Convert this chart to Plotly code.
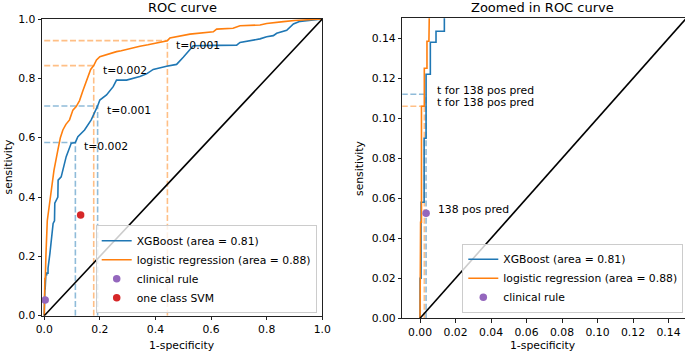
import plotly.graph_objects as go

# ---------------- data ----------------
xgb_fpr = [0, 0, 0.0006, 0.0006, 0.0023, 0.0023, 0.0034, 0.0034, 0.0058, 0.0058,
           0.009, 0.009, 0.0137, 0.0137, 0.0205, 0.032, 0.037, 0.038, 0.049, 0.05,
           0.061, 0.068, 0.079, 0.097, 0.112, 0.121, 0.145, 0.169, 0.187, 0.192,
           0.2, 0.224, 0.248, 0.26, 0.296, 0.344, 0.368, 0.392, 0.44, 0.476,
           0.5, 0.524, 0.536, 0.62, 0.692, 0.704, 0.752, 0.776, 0.8, 0.824,
           0.836, 0.872, 0.896, 0.92, 1.0]
xgb_tpr = [0, 0.02, 0.02, 0.058, 0.058, 0.09, 0.09, 0.122, 0.122, 0.138,
           0.138, 0.1435, 0.1435, 0.16, 0.21, 0.311, 0.32, 0.379, 0.40, 0.457,
           0.468, 0.491, 0.536, 0.581, 0.584, 0.603, 0.626, 0.66, 0.693, 0.707,
           0.727, 0.744, 0.772, 0.794, 0.794, 0.806, 0.815, 0.83, 0.841, 0.847,
           0.871, 0.899, 0.91, 0.911, 0.912, 0.921, 0.929, 0.933, 0.94, 0.944,
           0.952, 0.962, 0.983, 0.992, 1.0]

lr_fpr = [0, 0, 0.0003, 0.0003, 0.0008, 0.0008, 0.0024, 0.0024, 0.0039, 0.0039,
          0.005, 0.005, 0.006, 0.011, 0.018, 0.023, 0.027, 0.035, 0.049, 0.058,
          0.067, 0.078, 0.091, 0.103, 0.115, 0.127, 0.139, 0.148, 0.157, 0.167,
          0.178, 0.188, 0.2, 0.229, 0.26, 0.277, 0.325, 0.344, 0.373, 0.416,
          0.443, 0.452, 0.512, 0.524, 0.608, 0.62, 0.679, 0.704, 0.776, 0.8,
          0.86, 0.9, 1.0]
lr_tpr = [0, 0.006, 0.006, 0.048, 0.048, 0.106, 0.106, 0.125, 0.125, 0.1385,
          0.1385, 0.16, 0.2, 0.32, 0.367, 0.41, 0.44, 0.49, 0.558, 0.60,
          0.626, 0.645, 0.66, 0.693, 0.705, 0.725, 0.758, 0.78, 0.803, 0.83,
          0.843, 0.862, 0.873, 0.882, 0.89, 0.893, 0.905, 0.908, 0.913, 0.923,
          0.927, 0.936, 0.946, 0.949, 0.957, 0.966, 0.969, 0.977, 0.98, 0.985,
          0.991, 0.995, 1.0]

xgb_auc = 0.81
lr_auc = 0.88

clinical_fpr = [0.0034]
clinical_tpr = [0.0525]
svm_fpr = [0.131]
svm_tpr = [0.339]

# threshold markers on the full ROC plot
thr_model = ["xgb", "xgb", "lr", "lr"]
thr_fpr = [0.112, 0.192, 0.178, 0.443]
thr_tpr = [0.584, 0.707, 0.843, 0.927]
thr_label = ["t=0.002", "t=0.001", "t=0.002", "t=0.001"]

# thresholds giving 138 positive predictions (zoomed plot)
pos_model = ["xgb", "lr"]
pos_fpr = [0.0034, 0.0024]
pos_tpr = [0.112, 0.106]
pos_label = ["t for 138 pos pred", "t for 138 pos pred"]
clinical_label = "138 pos pred"

# ---------------- style ----------------
W, H = 685, 354
FONT = "DejaVu Sans"
BLUE = "#1f77b4"
ORANGE = "#ff7f0e"
LBLUE = "rgba(31,119,180,0.5)"
LORANGE = "rgba(255,127,14,0.5)"
PURPLE = "#9467bd"
RED = "#d62728"
FS = 10.8
DASH = "6px,2.6px"
LW = 1.6

fig = go.Figure()

# left axes: x 42 -> 322.3 px, y 19 -> 315.7 px
L_X = [42.0 / W, 322.3 / W]
L_Y = [1 - 315.7 / H, 1 - 19.0 / H]
# right axes
R_X = [402.3 / W, 1.0]
R_Y = [1 - 318.3 / H, 1 - 18.3 / H]

col = {"xgb": LBLUE, "lr": LORANGE}

# ---- left plot ----
for m, f, t in zip(thr_model, thr_fpr, thr_tpr):
    fig.add_trace(go.Scatter(x=[f, f], y=[0, t], mode="lines", xaxis="x", yaxis="y",
                             line=dict(color=col[m], width=LW, dash=DASH),
                             showlegend=False, hoverinfo="skip"))
    fig.add_trace(go.Scatter(x=[0, f], y=[t, t], mode="lines", xaxis="x", yaxis="y",
                             line=dict(color=col[m], width=LW, dash=DASH),
                             showlegend=False, hoverinfo="skip"))

fig.add_trace(go.Scatter(x=xgb_fpr, y=xgb_tpr, mode="lines", xaxis="x", yaxis="y",
                         line=dict(color=BLUE, width=LW),
                         name=f"XGBoost (area = {xgb_auc:.2f})", legend="legend"))
fig.add_trace(go.Scatter(x=lr_fpr, y=lr_tpr, mode="lines", xaxis="x", yaxis="y",
                         line=dict(color=ORANGE, width=LW),
                         name=f"logistic regression (area = {lr_auc:.2f})", legend="legend"))
fig.add_trace(go.Scatter(x=[0, 1], y=[0, 1], mode="lines", xaxis="x", yaxis="y",
                         line=dict(color="black", width=LW), showlegend=False, hoverinfo="skip"))
fig.add_trace(go.Scatter(x=clinical_fpr, y=clinical_tpr, mode="markers", xaxis="x", yaxis="y",
                         marker=dict(color=PURPLE, size=7.5), name="clinical rule", legend="legend"))
fig.add_trace(go.Scatter(x=svm_fpr, y=svm_tpr, mode="markers", xaxis="x", yaxis="y",
                         marker=dict(color=RED, size=7.5), name="one class SVM", legend="legend"))

# ---- right plot ----
for m, f, t in zip(pos_model, pos_fpr, pos_tpr):
    fig.add_trace(go.Scatter(x=[f, f], y=[0, t], mode="lines", xaxis="x2", yaxis="y2",
                             line=dict(color=col[m], width=LW, dash=DASH),
                             showlegend=False, hoverinfo="skip"))
    fig.add_trace(go.Scatter(x=[-0.02, f], y=[t, t], mode="lines", xaxis="x2", yaxis="y2",
                             line=dict(color=col[m], width=LW, dash=DASH),
                             showlegend=False, hoverinfo="skip"))

fig.add_trace(go.Scatter(x=xgb_fpr, y=xgb_tpr, mode="lines", xaxis="x2", yaxis="y2",
                         line=dict(color=BLUE, width=LW),
                         name=f"XGBoost (area = {xgb_auc:.2f})", legend="legend2"))
fig.add_trace(go.Scatter(x=lr_fpr, y=lr_tpr, mode="lines", xaxis="x2", yaxis="y2",
                         line=dict(color=ORANGE, width=LW),
                         name=f"logistic regression (area = {lr_auc:.2f})", legend="legend2"))
fig.add_trace(go.Scatter(x=[0, 1], y=[0, 1], mode="lines", xaxis="x2", yaxis="y2",
                         line=dict(color="black", width=LW), showlegend=False, hoverinfo="skip"))
fig.add_trace(go.Scatter(x=clinical_fpr, y=clinical_tpr, mode="markers", xaxis="x2", yaxis="y2",
                         marker=dict(color=PURPLE, size=7.5), name="clinical rule", legend="legend2"))

# ---- annotations ----
ann = []
tfont = dict(family=FONT, size=FS, color="black")
for f, t, lab in zip(thr_fpr, thr_tpr, thr_label):
    ann.append(dict(x=f + 0.025, y=t - 0.015, xref="x", yref="y", text=lab, showarrow=False,
                    xanchor="left", yanchor="middle", font=tfont))
for f, t, lab in zip(pos_fpr, pos_tpr, pos_label):
    ann.append(dict(x=0.0085, y=t + 0.002, xref="x2", yref="y2", text=lab, showarrow=False,
                    xanchor="left", yanchor="middle", font=tfont))
ann.append(dict(x=clinical_fpr[0] + 0.0054, y=clinical_tpr[0] + 0.002, xref="x2", yref="y2",
                text=clinical_label, showarrow=False, xanchor="left", yanchor="middle",
                font=tfont))

# titles and axis labels
title_font = dict(family=FONT, size=13, color="black")
ann.append(dict(x=182.2 / W, y=1 - 7.5 / H, xref="paper", yref="paper", text="ROC curve",
                showarrow=False, xanchor="center", yanchor="middle", font=title_font))
ann.append(dict(x=542.5 / W, y=1 - 7.5 / H, xref="paper", yref="paper", text="Zoomed in ROC curve",
                showarrow=False, xanchor="center", yanchor="middle", font=title_font))
ann.append(dict(x=182.2 / W, y=1 - 345 / H, xref="paper", yref="paper", text="1-specificity",
                showarrow=False, xanchor="center", yanchor="middle", font=tfont))
ann.append(dict(x=542.5 / W, y=1 - 345 / H, xref="paper", yref="paper", text="1-specificity",
                showarrow=False, xanchor="center", yanchor="middle", font=tfont))
ann.append(dict(x=8.5 / W, y=1 - 167 / H, xref="paper", yref="paper", text="sensitivity",
                showarrow=False, textangle=-90, xanchor="center", yanchor="middle", font=tfont))
ann.append(dict(x=359 / W, y=1 - 168 / H, xref="paper", yref="paper", text="sensitivity",
                showarrow=False, textangle=-90, xanchor="center", yanchor="middle", font=tfont))

axis_common = dict(showgrid=False, zeroline=False, showline=True, mirror=True,
                   linecolor="#222", linewidth=0.9, ticks="outside", ticklen=3.5,
                   tickwidth=0.9, tickcolor="#222", automargin=False,
                   tickfont=dict(family=FONT, size=FS, color="black"))

legend_common = dict(bgcolor="rgba(255,255,255,0.8)", bordercolor="#cccccc", borderwidth=1,
                     font=dict(family=FONT, size=FS, color="black"), itemwidth=30,
                     tracegroupgap=0, xanchor="right", yanchor="bottom")

fig.update_layout(
    width=W, height=H,
    margin=dict(l=0, r=0, t=0, b=0),
    paper_bgcolor="white", plot_bgcolor="white",
    font=dict(family=FONT, size=FS, color="black"),
    xaxis=dict(domain=L_X, range=[-0.008, 1.0], tick0=0, dtick=0.2, tickformat=".1f",
               anchor="y", **axis_common),
    yaxis=dict(domain=L_Y, range=[0, 1.0], tick0=0, dtick=0.2, tickformat=".1f",
               anchor="x", **axis_common),
    xaxis2=dict(domain=R_X, range=[-0.01, 0.1493], tick0=0, dtick=0.02, tickformat=".2f",
                anchor="y2", **axis_common),
    yaxis2=dict(domain=R_Y, range=[0, 0.15], tick0=0, dtick=0.02, tickformat=".2f",
                anchor="x2", **axis_common),
    legend=dict(x=316.7 / W, y=1 - 313.3 / H, **legend_common),
    legend2=dict(x=683.3 / W, y=1 - 312.7 / H, **legend_common),
    annotations=ann,
    showlegend=True,
)

fig.write_html(
    "out.html",
    config={"displayModeBar": False},
    post_script="document.body.style.margin='0';document.body.style.padding='0';"
                "document.documentElement.style.overflow='hidden';",
)
